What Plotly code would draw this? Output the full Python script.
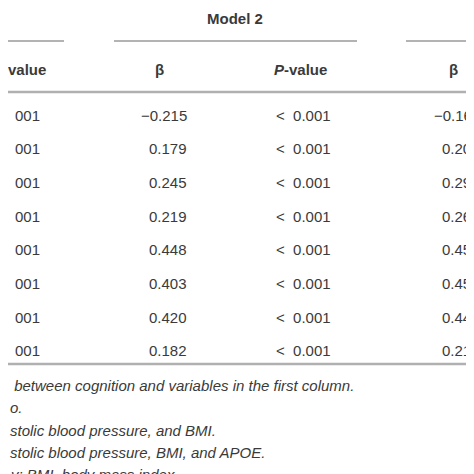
import plotly.graph_objects as go

# table values (visible part of the crop)
p_col1 = ["001"] * 8
beta_m2 = ["\u22120.215", "0.179", "0.245", "0.219", "0.448", "0.403", "0.420", "0.182"]
p_m2 = ["<  0.001"] * 8
beta_m3 = ["\u22120.167", "0.200", "0.293", "0.268", "0.458", "0.454", "0.443", "0.214"]
footnotes = [
    " between cognition and variables in the first column.",
    "o.",
    "stolic blood pressure, and BMI.",
    "stolic blood pressure, BMI, and APOE.",
    "y; BMI, body mass index.",
]

TXT = "#3a3a3a"
FONT = "Liberation Sans, Arial, sans-serif"

fig = go.Figure()
ann = []

def add(x, y, t, anchor="center", size=15, bold=False, italic=False):
    if bold:
        t = "<b>" + t + "</b>"
    if italic:
        t = "<i>" + t + "</i>"
    ann.append(dict(x=x, y=y, xref="x", yref="y", text=t, showarrow=False,
                    xanchor=anchor, yanchor="middle",
                    font=dict(family=FONT, size=size, color=TXT)))

add(227, 10, "Model 2", bold=True)
add(40, 61, "<i>P</i>-value", anchor="right", bold=True)
add(151, 61, "β", bold=True)
add(292, 61, "<i>P</i>-value", bold=True)
add(445, 61, "β", bold=True)

row_y = [107, 140, 174, 208, 241, 275, 309, 342]
for i, y in enumerate(row_y):
    add(34, y, p_col1[i], anchor="right")
    add(181, y, beta_m2[i], anchor="right")
    add(325, y, p_m2[i], anchor="right")
    add(474, y, beta_m3[i], anchor="right")

foot_y = [377, 399, 422, 444, 466]
for t, y in zip(footnotes, foot_y):
    add(0, y, t, anchor="left", italic=True)

shapes = []
for x0, x1 in [(-5, 56), (106, 349), (398, 480)]:
    shapes.append(dict(type="line", xref="x", yref="y", x0=x0, x1=x1, y0=33, y1=33,
                       line=dict(color="#9a9a9a", width=1.5)))
for y in [84, 356]:
    shapes.append(dict(type="line", xref="x", yref="y", x0=-5, x1=480, y0=y, y1=y,
                       line=dict(color="#b0b0b0", width=2.5)))

fig.update_layout(
    width=474, height=474,
    margin=dict(l=0, r=0, t=0, b=0),
    paper_bgcolor="white", plot_bgcolor="white",
    xaxis=dict(range=[0, 474], visible=False, fixedrange=True),
    yaxis=dict(range=[474, 0], visible=False, fixedrange=True),
    annotations=ann, shapes=shapes, showlegend=False,
)

fig.write_html("out.html")
